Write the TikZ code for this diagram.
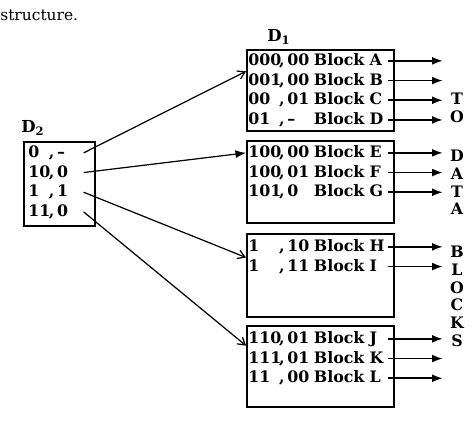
\documentclass[tikz,border=0pt]{standalone}
\usepackage{fontspec}
\setmainfont{DejaVu Serif}
\usetikzlibrary{arrows.meta,calc,positioning}

% one entry line of a table: first field, second field, block letter
\newcommand{\blkrow}[3]{\mbox{\makebox[1.95em][l]{#1},\,\makebox[1.35em][l]{#2} Block #3}}
\newcommand{\dtworow}[2]{\mbox{\makebox[1.3em][l]{#1},\,#2}}

\begin{document}
\begin{tikzpicture}[
  x=0.02cm, y=-0.02cm,
  font=\fontsize{8.8}{10}\selectfont,
  boxblk/.style={draw,line width=0.9pt,anchor=north west,inner sep=0pt,
                 minimum width=2.94cm},
  rowtxt/.style={inner sep=0pt,minimum height=0.38cm,text width=2.78cm,
                 align=left,font=\fontsize{9}{10}\selectfont\bfseries},
  dtwotxt/.style={rowtxt,text width=1.1cm},
  sideltr/.style={inner sep=0pt,minimum height=0.34cm,
                  font=\fontsize{9}{10}\selectfont\bfseries},
  outarr/.style={-{Latex[length=6pt,width=4.5pt]},line width=0.9pt},
  link/.style={-{Straight Barb[length=4pt,width=5pt]},line width=0.7pt},
]
\useasboundingbox (0,0) rectangle (474,440);

\node[anchor=west,inner sep=0pt] (capt) at (0,15) {structure.};

%% ---------------- D1 tables ----------------
\node[font=\fontsize{9.4}{10}\selectfont\bfseries] (donelbl) at (279,37) {D\textsubscript{1}};

\node[boxblk,minimum height=1.62cm] (boxabcd) at (246,49) {};
\node[boxblk,minimum height=1.64cm] (boxefg)  at (246,140) {};
\node[boxblk,minimum height=1.66cm] (boxhi)   at (246,233) {};
\node[boxblk,minimum height=1.62cm] (boxjkl)  at (246,325) {};

% rows, first box
\node[rowtxt,anchor=north west] (rowa) at ($(boxabcd.north west)+(2,2)$) {\blkrow{000}{00}{A}};
\node[rowtxt,below=0pt of rowa] (rowb) {\blkrow{001}{00}{B}};
\node[rowtxt,below=0pt of rowb] (rowc) {\blkrow{00}{01}{C}};
\node[rowtxt,below=0pt of rowc] (rowd) {\blkrow{01}{\textendash}{D}};

% rows, second box
\node[rowtxt,anchor=north west] (rowe) at ($(boxefg.north west)+(2,3)$) {\blkrow{100}{00}{E}};
\node[rowtxt,below=0pt of rowe] (rowf) {\blkrow{100}{01}{F}};
\node[rowtxt,below=0pt of rowf] (rowg) {\blkrow{101}{0}{G}};

% rows, third box
\node[rowtxt,anchor=north west] (rowh) at ($(boxhi.north west)+(2,4)$) {\blkrow{1}{10}{H}};
\node[rowtxt,below=0pt of rowh] (rowi) {\blkrow{1}{11}{I}};

% rows, fourth box
\node[rowtxt,anchor=north west] (rowj) at ($(boxjkl.north west)+(2,4)$) {\blkrow{110}{01}{J}};
\node[rowtxt,below=0pt of rowj] (rowk) {\blkrow{111}{01}{K}};
\node[rowtxt,below=0pt of rowk] (rowl) {\blkrow{11}{00}{L}};

% arrows out to the data blocks
\draw[outarr] (rowa.east) -- ++(55,0);
\draw[outarr] (rowb.east) -- ++(55,0);
\draw[outarr] (rowc.east) -- ++(55,0);
\draw[outarr] (rowd.east) -- ++(55,0);
\draw[outarr] (rowe.east) -- ++(55,0);
\draw[outarr] (rowf.east) -- ++(55,0);
\draw[outarr] (rowg.east) -- ++(55,0);
\draw[outarr] (rowh.east) -- ++(55,0);
\draw[outarr] (rowi.east) -- ++(55,0);
\draw[outarr] (rowj.east) -- ++(55,0);
\draw[outarr] (rowk.east) -- ++(55,0);
\draw[outarr] (rowl.east) -- ++(55,0);

% --- TO DATA BLOCKS, one letter under the other ---
\node[sideltr] (lto) at (457,99) {T};
\node[sideltr,below=0pt of lto] (ltoo) {O};
\node[sideltr] (lda) at (457,156) {D};
\node[sideltr,below=0pt of lda] (ldb) {A};
\node[sideltr,below=0pt of ldb] (ldc) {T};
\node[sideltr,below=0pt of ldc] (ldd) {A};
\node[sideltr] (lba) at (457,252) {B};
\node[sideltr,below=0pt of lba] (lbb) {L};
\node[sideltr,below=0pt of lbb] (lbc) {O};
\node[sideltr,below=0pt of lbc] (lbd) {C};
\node[sideltr,below=0pt of lbd] (lbe) {K};
\node[sideltr,below=0pt of lbe] (lbf) {S};

%% ---------------- D2 directory ----------------
\node[font=\fontsize{9.4}{10}\selectfont\bfseries] (dtwolbl) at (33,128) {D\textsubscript{2}};
\node[boxblk,minimum width=1.42cm,minimum height=1.68cm] (dtwobox) at (23,141) {};

\node[dtwotxt,anchor=north west] (dtwoa) at ($(dtwobox.north west)+(5,2)$) {\dtworow{0}{\textendash}};
\node[dtwotxt,below=0pt of dtwoa] (dtwob) {\dtworow{10}{0}};
\node[dtwotxt,below=0pt of dtwob] (dtwoc) {\dtworow{1}{1}};
\node[dtwotxt,below=0pt of dtwoc] (dtwod) {\dtworow{11}{0}};

% pointers into the D1 tables
\draw[link] (dtwoa.east) -- ($(boxabcd.north west)!0.27!(boxabcd.south west)$);
\draw[outarr,line width=0.7pt] (dtwob.east) -- (boxefg.west |- rowe);
\draw[link] (dtwoc.east) -- ($(boxhi.north west)!0.29!(boxhi.south west)$);
\draw[link] (dtwod.east) -- ($(boxjkl.north west)!0.25!(boxjkl.south west)$);

\end{tikzpicture}
\end{document}
